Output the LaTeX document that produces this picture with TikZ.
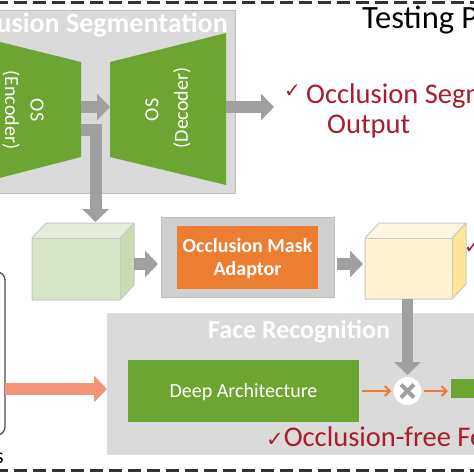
\documentclass[tikz,border=0pt]{standalone}
\usepackage{fontspec}
\setmainfont{Carlito}
\newfontfamily\symfont{DejaVu Sans}
\usetikzlibrary{arrows.meta}

\definecolor{OSGreen}{HTML}{6CA532}
\definecolor{BoxGray}{HTML}{DADADA}
\definecolor{BoxLine}{HTML}{BFBFBF}
\definecolor{AdaptGray}{HTML}{CFCFCF}
\definecolor{ArrowGray}{HTML}{A0A0A0}
\definecolor{Adapt}{HTML}{ED7D31}
\definecolor{OutRed}{HTML}{A81C2C}
\definecolor{Salmon}{HTML}{F39479}
\definecolor{CubeEdge}{HTML}{C9C9C9}
\definecolor{GFront}{HTML}{D6E5C8}
\definecolor{GTop}{HTML}{E3EDDA}
\definecolor{GSide}{HTML}{C8DDB3}
\definecolor{YFront}{HTML}{FFF2D1}
\definecolor{YTop}{HTML}{FFF6DF}
\definecolor{YSide}{HTML}{FFE59A}

\tikzset{
  dashline/.style={draw=black!80, line width=3pt, dash pattern=on 13pt off 6pt},
  grayarrow/.style={draw=ArrowGray, line width=12pt, line join=miter, -{Triangle[length=13pt,width=26pt]}},
  orangearrow/.style={draw=Adapt, line width=2pt, -{Straight Barb[length=5pt,width=10pt]}},
  cubeedge/.style={draw=CubeEdge, line width=1pt, line join=round},
  whitetitle/.style={inner sep=0pt, text=white, font=\fontsize{28}{32}\selectfont\bfseries},
  whitetext/.style={inner sep=0pt, text=white, font=\fontsize{20}{24}\selectfont},
  redtext/.style={inner sep=0pt, text=OutRed, font=\fontsize{28.5}{32}\selectfont}
}

\begin{document}
\begin{tikzpicture}[x=1pt, y=-1pt]
 \useasboundingbox (0,0) rectangle (474,474) ;
 \clip (0,0) rectangle (474,474) ;

 %%%%%%%%%% Points pour travailler %%%%%%%%%%
 \coordinate (encR) at (81,107) ;
 \coordinate (decL) at (110,107) ;
 \coordinate (encL) at (81,129.5) ;
 \coordinate (maskin) at (95.5,222) ;
 \coordinate (decR) at (226,107) ;
 \coordinate (segout) at (274,107) ;
 \coordinate (gcubeR) at (134,264) ;
 \coordinate (adaptL) at (158,264) ;
 \coordinate (adaptR) at (337,264) ;
 \coordinate (ycubeL) at (363,264) ;
 \coordinate (ycubeB) at (407.5,299) ;
 \coordinate (multT) at (407.5,375) ;
 \coordinate (frameR) at (5,389) ;
 \coordinate (faceL) at (107,389) ;

 %%%%%%%%%% Dashed frame %%%%%%%%%%
 \draw [dashline] (-5,2) -- (480,2) ;
 \draw [dashline] (-5,470) -- (480,470) ;
 \node [anchor=base west, inner sep=0pt, font=\fontsize{32.5}{36}\selectfont] (testing) at (362,28) {Testing Phase};

 %%%%%%%%%% Occlusion segmentation %%%%%%%%%%
 \draw [fill=BoxGray, draw=BoxLine] (-20,10) rectangle (235,193) ;
 \node [whitetitle, anchor=base east] (segtitle) at (228,32) {Occlusion Segmentation};
 \fill [OSGreen] (-20,37) -- (81,62) -- (81,157) -- (-20,183) -- cycle ;
 \fill [OSGreen] (110,62) -- (226,33) -- (226,185) -- (110,157) -- cycle ;
 \node [whitetext, rotate=-90] (encos) at (37,110) {OS};
 \node [whitetext, rotate=-90] (encname) at (11,110) {(Encoder)};
 \node [whitetext, rotate=90] (decos) at (152,110) {OS};
 \node [whitetext, rotate=90] (decname) at (182,108) {(Decoder)};

 \draw [grayarrow] (encR) -- (decL) ;
 \draw [grayarrow] (encL) -| (maskin) ;
 \draw [grayarrow] (decR) -- (segout) ;

 \node [redtext, anchor=base west] (segcheck) at (284,97) {\symfont\fontsize{20}{22}\selectfont ✓};
 \node [redtext, anchor=base west] (segout1) at (306,103) {Occlusion Segmentation};
 \node [redtext, anchor=base west] (segout2) at (327,133) {Output};

 %%%%%%%%%% Green cube %%%%%%%%%%
 \fill [GTop] (32,238) -- (46,223) -- (134,223) -- (120,238) -- cycle ;
 \fill [GSide] (120,238) -- (134,223) -- (134,285) -- (120,300) -- cycle ;
 \fill [GFront] (32,238) rectangle (120,300) ;
 \draw [cubeedge] (32,238) -- (46,223) -- (134,223) -- (134,285) -- (120,300) -- (32,300) -- cycle ;
 \draw [cubeedge] (32,238) -- (120,238) -- (120,300) ;
 \draw [cubeedge] (120,238) -- (134,223) ;

 %%%%%%%%%% Occlusion mask adaptor %%%%%%%%%%
 \draw [fill=AdaptGray, draw=BoxLine] (161,217) rectangle (334,297) ;
 \fill [Adapt] (177,226) rectangle (318,289) ;
 \node [whitetext, anchor=base, font=\fontsize{20}{24}\selectfont\bfseries] (adapt1) at (247.5,252) {Occlusion Mask};
 \node [whitetext, anchor=base, font=\fontsize{20}{24}\selectfont\bfseries] (adapt2) at (247.5,275) {Adaptor};
 \draw [grayarrow] (gcubeR) -- (adaptL) ;
 \draw [grayarrow] (adaptR) -- (ycubeL) ;

 %%%%%%%%%% Yellow cube %%%%%%%%%%
 \fill [YTop] (365,238) -- (379,223) -- (466,223) -- (452,238) -- cycle ;
 \fill [YSide] (452,238) -- (466,223) -- (466,284) -- (452,299) -- cycle ;
 \fill [YFront] (365,238) rectangle (452,299) ;
 \draw [cubeedge] (365,238) -- (379,223) -- (466,223) -- (466,284) -- (452,299) -- (365,299) -- cycle ;
 \draw [cubeedge] (365,238) -- (452,238) -- (452,299) ;
 \draw [cubeedge] (452,238) -- (466,223) ;
 \node [redtext, anchor=base west] (ycheck) at (464,253) {\symfont\fontsize{20}{22}\selectfont ✓};

 %%%%%%%%%% Face recognition %%%%%%%%%%
 \fill [BoxGray] (107,313) rectangle (490,455) ;
 \node [whitetitle, anchor=base west, font=\fontsize{26}{30}\selectfont\bfseries] (facetitle) at (208,338) {Face Recognition};
 \fill [OSGreen] (128,360) rectangle (359,422) ;
 \node [whitetext, anchor=base] (deep) at (243.5,397) {Deep Architecture};
 \fill [OSGreen] (451,379) rectangle (490,398) ;
 \coordinate (deepR) at (362,391) ;
 \coordinate (featL) at (448,391) ;
 \node [circle, fill=white, minimum size=28pt, inner sep=0pt] (mult) at (407.5,391) {};
 \draw [ArrowGray, line width=4pt] (mult.center) ++(-6.5,-6.5) -- ++(13,13) ;
 \draw [ArrowGray, line width=4pt] (mult.center) ++(6.5,-6.5) -- ++(-13,13) ;
 \draw [grayarrow, line width=11pt] (ycubeB) -- (multT) ;
 \draw [orangearrow] (deepR) -- ([xshift=-2pt]mult.west) ;
 \draw [orangearrow] ([xshift=2pt]mult.east) -- (featL) ;
 \node [redtext, anchor=base west] (freecheck) at (266,446) {{\symfont\fontsize{21}{22}\selectfont ✓}Occlusion-free Feature};

 %%%%%%%%%% Input side %%%%%%%%%%
 \draw [black!70, line width=1.3pt, rounded corners=8pt] (-40,272) rectangle (5,435) ;
 \draw [grayarrow, draw=Salmon] (frameR) -- (faceL) ;
 \node [anchor=base east, inner sep=0pt, font=\fontsize{22}{26}\selectfont] (inputs) at (4,463) {s};

\end{tikzpicture}
\end{document}
